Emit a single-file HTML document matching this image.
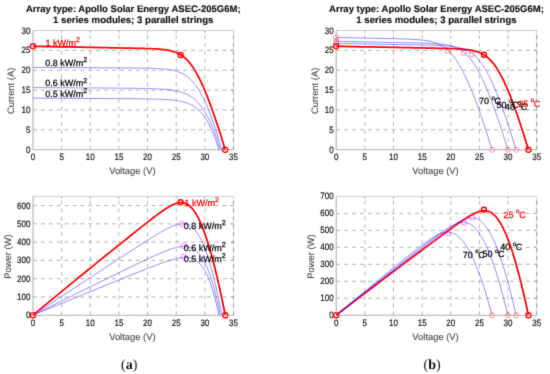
<!DOCTYPE html>
<html><head><meta charset="utf-8"><title>PV array characteristics</title>
<style>html,body{margin:0;padding:0;background:#fff;} svg{display:block;}</style>
</head><body>
<svg width="550" height="374" viewBox="0 0 550 374" text-rendering="geometricPrecision">
<defs><filter id="soft" x="0" y="0" width="550" height="374" filterUnits="userSpaceOnUse"><feConvolveMatrix order="3" kernelMatrix="0.018 0.135 0.018 0.135 1 0.135 0.018 0.135 0.018" divisor="1.614" edgeMode="duplicate" preserveAlpha="false"/></filter></defs>
<rect width="550" height="374" fill="#fff"/>
<g filter="url(#soft)">
<text transform="translate(133.25,12.0) scale(1.0,1)" text-anchor="middle" font-size="9.5" font-weight="bold" fill="#111" stroke="#111" stroke-width="0.15" font-family="'Liberation Sans',Arial,Helvetica,sans-serif">Array type: Apollo Solar Energy ASEC-205G6M;</text>
<text transform="translate(133.25,23.4) scale(1.012,1)" text-anchor="middle" font-size="9.5" font-weight="bold" fill="#111" stroke="#111" stroke-width="0.15" font-family="'Liberation Sans',Arial,Helvetica,sans-serif">1 series modules; 3 parallel strings</text>
<text transform="translate(436.45,12.0) scale(1.0,1)" text-anchor="middle" font-size="9.5" font-weight="bold" fill="#111" stroke="#111" stroke-width="0.15" font-family="'Liberation Sans',Arial,Helvetica,sans-serif">Array type: Apollo Solar Energy ASEC-205G6M;</text>
<text transform="translate(436.45,23.4) scale(1.012,1)" text-anchor="middle" font-size="9.5" font-weight="bold" fill="#111" stroke="#111" stroke-width="0.15" font-family="'Liberation Sans',Arial,Helvetica,sans-serif">1 series modules; 3 parallel strings</text>
<line x1="61.64" y1="149.7" x2="61.64" y2="30.5" stroke="#b6b6b6" stroke-width="1" stroke-dasharray="3.95 3.95"/>
<line x1="90.29" y1="149.7" x2="90.29" y2="30.5" stroke="#b6b6b6" stroke-width="1" stroke-dasharray="3.95 3.95"/>
<line x1="118.93" y1="149.7" x2="118.93" y2="30.5" stroke="#b6b6b6" stroke-width="1" stroke-dasharray="3.95 3.95"/>
<line x1="147.57" y1="149.7" x2="147.57" y2="30.5" stroke="#b6b6b6" stroke-width="1" stroke-dasharray="3.95 3.95"/>
<line x1="176.21" y1="149.7" x2="176.21" y2="30.5" stroke="#b6b6b6" stroke-width="1" stroke-dasharray="3.95 3.95"/>
<line x1="204.86" y1="149.7" x2="204.86" y2="30.5" stroke="#b6b6b6" stroke-width="1" stroke-dasharray="3.95 3.95"/>
<line x1="33.0" y1="129.83" x2="233.5" y2="129.83" stroke="#b1b1b1" stroke-width="1" stroke-dasharray="3.95 3.95"/>
<line x1="33.0" y1="109.97" x2="233.5" y2="109.97" stroke="#b1b1b1" stroke-width="1" stroke-dasharray="3.95 3.95"/>
<line x1="33.0" y1="90.10" x2="233.5" y2="90.10" stroke="#b1b1b1" stroke-width="1" stroke-dasharray="3.95 3.95"/>
<line x1="33.0" y1="70.23" x2="233.5" y2="70.23" stroke="#b1b1b1" stroke-width="1" stroke-dasharray="3.95 3.95"/>
<line x1="33.0" y1="50.37" x2="233.5" y2="50.37" stroke="#b1b1b1" stroke-width="1" stroke-dasharray="3.95 3.95"/>
<path d="M61.64,30.5 v2.2 M90.29,30.5 v2.2 M118.93,30.5 v2.2 M147.57,30.5 v2.2 M176.21,30.5 v2.2 M204.86,30.5 v2.2 M233.5,129.83 h-2.2 M233.5,109.97 h-2.2 M233.5,90.10 h-2.2 M233.5,70.23 h-2.2 M233.5,50.37 h-2.2" stroke="#a0a0a0" stroke-width="1" fill="none"/>
<line x1="233.5" y1="149.7" x2="233.5" y2="30.5" stroke="#d4d4d4" stroke-width="0.8"/>
<line x1="233.5" y1="149.7" x2="233.5" y2="30.5" stroke="#9a9a9a" stroke-width="1" stroke-dasharray="3.95 3.95"/>
<line x1="33.0" y1="30.5" x2="233.5" y2="30.5" stroke="#c6c6c6" stroke-width="0.9"/>
<path d="M33.0,30.5 V149.7 H233.5" fill="none" stroke="#b0b0b0" stroke-width="1.05"/>
<text transform="translate(33.00,160.30) scale(0.86,1)" text-anchor="middle" font-size="9.3" fill="#111" stroke="#111" stroke-width="0.18" font-family="'Liberation Sans',Arial,Helvetica,sans-serif">0</text>
<text transform="translate(61.64,160.30) scale(0.86,1)" text-anchor="middle" font-size="9.3" fill="#111" stroke="#111" stroke-width="0.18" font-family="'Liberation Sans',Arial,Helvetica,sans-serif">5</text>
<text transform="translate(90.29,160.30) scale(0.86,1)" text-anchor="middle" font-size="9.3" fill="#111" stroke="#111" stroke-width="0.18" font-family="'Liberation Sans',Arial,Helvetica,sans-serif">10</text>
<text transform="translate(118.93,160.30) scale(0.86,1)" text-anchor="middle" font-size="9.3" fill="#111" stroke="#111" stroke-width="0.18" font-family="'Liberation Sans',Arial,Helvetica,sans-serif">15</text>
<text transform="translate(147.57,160.30) scale(0.86,1)" text-anchor="middle" font-size="9.3" fill="#111" stroke="#111" stroke-width="0.18" font-family="'Liberation Sans',Arial,Helvetica,sans-serif">20</text>
<text transform="translate(176.21,160.30) scale(0.86,1)" text-anchor="middle" font-size="9.3" fill="#111" stroke="#111" stroke-width="0.18" font-family="'Liberation Sans',Arial,Helvetica,sans-serif">25</text>
<text transform="translate(204.86,160.30) scale(0.86,1)" text-anchor="middle" font-size="9.3" fill="#111" stroke="#111" stroke-width="0.18" font-family="'Liberation Sans',Arial,Helvetica,sans-serif">30</text>
<text transform="translate(233.50,160.30) scale(0.86,1)" text-anchor="middle" font-size="9.3" fill="#111" stroke="#111" stroke-width="0.18" font-family="'Liberation Sans',Arial,Helvetica,sans-serif">35</text>
<text transform="translate(30.40,152.70) scale(0.86,1)" text-anchor="end" font-size="9.3" fill="#111" stroke="#111" stroke-width="0.18" font-family="'Liberation Sans',Arial,Helvetica,sans-serif">0</text>
<text transform="translate(30.40,132.83) scale(0.86,1)" text-anchor="end" font-size="9.3" fill="#111" stroke="#111" stroke-width="0.18" font-family="'Liberation Sans',Arial,Helvetica,sans-serif">5</text>
<text transform="translate(30.40,112.97) scale(0.86,1)" text-anchor="end" font-size="9.3" fill="#111" stroke="#111" stroke-width="0.18" font-family="'Liberation Sans',Arial,Helvetica,sans-serif">10</text>
<text transform="translate(30.40,93.10) scale(0.86,1)" text-anchor="end" font-size="9.3" fill="#111" stroke="#111" stroke-width="0.18" font-family="'Liberation Sans',Arial,Helvetica,sans-serif">15</text>
<text transform="translate(30.40,73.23) scale(0.86,1)" text-anchor="end" font-size="9.3" fill="#111" stroke="#111" stroke-width="0.18" font-family="'Liberation Sans',Arial,Helvetica,sans-serif">20</text>
<text transform="translate(30.40,53.37) scale(0.86,1)" text-anchor="end" font-size="9.3" fill="#111" stroke="#111" stroke-width="0.18" font-family="'Liberation Sans',Arial,Helvetica,sans-serif">25</text>
<text transform="translate(30.40,33.50) scale(0.86,1)" text-anchor="end" font-size="9.3" fill="#111" stroke="#111" stroke-width="0.18" font-family="'Liberation Sans',Arial,Helvetica,sans-serif">30</text>
<text transform="translate(132.35,173.6) scale(1.0,1)" text-anchor="middle" font-size="9.4" fill="#474747" stroke="#474747" stroke-width="0.1" font-family="'Liberation Sans',Arial,Helvetica,sans-serif">Voltage (V)</text>
<line x1="364.84" y1="149.7" x2="364.84" y2="30.5" stroke="#b6b6b6" stroke-width="1" stroke-dasharray="3.95 3.95"/>
<line x1="393.49" y1="149.7" x2="393.49" y2="30.5" stroke="#b6b6b6" stroke-width="1" stroke-dasharray="3.95 3.95"/>
<line x1="422.13" y1="149.7" x2="422.13" y2="30.5" stroke="#b6b6b6" stroke-width="1" stroke-dasharray="3.95 3.95"/>
<line x1="450.77" y1="149.7" x2="450.77" y2="30.5" stroke="#b6b6b6" stroke-width="1" stroke-dasharray="3.95 3.95"/>
<line x1="479.41" y1="149.7" x2="479.41" y2="30.5" stroke="#b6b6b6" stroke-width="1" stroke-dasharray="3.95 3.95"/>
<line x1="508.06" y1="149.7" x2="508.06" y2="30.5" stroke="#b6b6b6" stroke-width="1" stroke-dasharray="3.95 3.95"/>
<line x1="336.2" y1="129.83" x2="536.7" y2="129.83" stroke="#b1b1b1" stroke-width="1" stroke-dasharray="3.95 3.95"/>
<line x1="336.2" y1="109.97" x2="536.7" y2="109.97" stroke="#b1b1b1" stroke-width="1" stroke-dasharray="3.95 3.95"/>
<line x1="336.2" y1="90.10" x2="536.7" y2="90.10" stroke="#b1b1b1" stroke-width="1" stroke-dasharray="3.95 3.95"/>
<line x1="336.2" y1="70.23" x2="536.7" y2="70.23" stroke="#b1b1b1" stroke-width="1" stroke-dasharray="3.95 3.95"/>
<line x1="336.2" y1="50.37" x2="536.7" y2="50.37" stroke="#b1b1b1" stroke-width="1" stroke-dasharray="3.95 3.95"/>
<path d="M364.84,30.5 v2.2 M393.49,30.5 v2.2 M422.13,30.5 v2.2 M450.77,30.5 v2.2 M479.41,30.5 v2.2 M508.06,30.5 v2.2 M536.7,129.83 h-2.2 M536.7,109.97 h-2.2 M536.7,90.10 h-2.2 M536.7,70.23 h-2.2 M536.7,50.37 h-2.2" stroke="#a0a0a0" stroke-width="1" fill="none"/>
<line x1="536.7" y1="149.7" x2="536.7" y2="30.5" stroke="#d4d4d4" stroke-width="0.8"/>
<line x1="536.7" y1="149.7" x2="536.7" y2="30.5" stroke="#9a9a9a" stroke-width="1" stroke-dasharray="3.95 3.95"/>
<line x1="336.2" y1="30.5" x2="536.7" y2="30.5" stroke="#c6c6c6" stroke-width="0.9"/>
<path d="M336.2,30.5 V149.7 H536.7" fill="none" stroke="#b0b0b0" stroke-width="1.05"/>
<text transform="translate(336.20,160.30) scale(0.86,1)" text-anchor="middle" font-size="9.3" fill="#111" stroke="#111" stroke-width="0.18" font-family="'Liberation Sans',Arial,Helvetica,sans-serif">0</text>
<text transform="translate(364.84,160.30) scale(0.86,1)" text-anchor="middle" font-size="9.3" fill="#111" stroke="#111" stroke-width="0.18" font-family="'Liberation Sans',Arial,Helvetica,sans-serif">5</text>
<text transform="translate(393.49,160.30) scale(0.86,1)" text-anchor="middle" font-size="9.3" fill="#111" stroke="#111" stroke-width="0.18" font-family="'Liberation Sans',Arial,Helvetica,sans-serif">10</text>
<text transform="translate(422.13,160.30) scale(0.86,1)" text-anchor="middle" font-size="9.3" fill="#111" stroke="#111" stroke-width="0.18" font-family="'Liberation Sans',Arial,Helvetica,sans-serif">15</text>
<text transform="translate(450.77,160.30) scale(0.86,1)" text-anchor="middle" font-size="9.3" fill="#111" stroke="#111" stroke-width="0.18" font-family="'Liberation Sans',Arial,Helvetica,sans-serif">20</text>
<text transform="translate(479.41,160.30) scale(0.86,1)" text-anchor="middle" font-size="9.3" fill="#111" stroke="#111" stroke-width="0.18" font-family="'Liberation Sans',Arial,Helvetica,sans-serif">25</text>
<text transform="translate(508.06,160.30) scale(0.86,1)" text-anchor="middle" font-size="9.3" fill="#111" stroke="#111" stroke-width="0.18" font-family="'Liberation Sans',Arial,Helvetica,sans-serif">30</text>
<text transform="translate(536.70,160.30) scale(0.86,1)" text-anchor="middle" font-size="9.3" fill="#111" stroke="#111" stroke-width="0.18" font-family="'Liberation Sans',Arial,Helvetica,sans-serif">35</text>
<text transform="translate(333.60,152.70) scale(0.86,1)" text-anchor="end" font-size="9.3" fill="#111" stroke="#111" stroke-width="0.18" font-family="'Liberation Sans',Arial,Helvetica,sans-serif">0</text>
<text transform="translate(333.60,132.83) scale(0.86,1)" text-anchor="end" font-size="9.3" fill="#111" stroke="#111" stroke-width="0.18" font-family="'Liberation Sans',Arial,Helvetica,sans-serif">5</text>
<text transform="translate(333.60,112.97) scale(0.86,1)" text-anchor="end" font-size="9.3" fill="#111" stroke="#111" stroke-width="0.18" font-family="'Liberation Sans',Arial,Helvetica,sans-serif">10</text>
<text transform="translate(333.60,93.10) scale(0.86,1)" text-anchor="end" font-size="9.3" fill="#111" stroke="#111" stroke-width="0.18" font-family="'Liberation Sans',Arial,Helvetica,sans-serif">15</text>
<text transform="translate(333.60,73.23) scale(0.86,1)" text-anchor="end" font-size="9.3" fill="#111" stroke="#111" stroke-width="0.18" font-family="'Liberation Sans',Arial,Helvetica,sans-serif">20</text>
<text transform="translate(333.60,53.37) scale(0.86,1)" text-anchor="end" font-size="9.3" fill="#111" stroke="#111" stroke-width="0.18" font-family="'Liberation Sans',Arial,Helvetica,sans-serif">25</text>
<text transform="translate(333.60,33.50) scale(0.86,1)" text-anchor="end" font-size="9.3" fill="#111" stroke="#111" stroke-width="0.18" font-family="'Liberation Sans',Arial,Helvetica,sans-serif">30</text>
<text transform="translate(435.55,173.6) scale(1.0,1)" text-anchor="middle" font-size="9.4" fill="#474747" stroke="#474747" stroke-width="0.1" font-family="'Liberation Sans',Arial,Helvetica,sans-serif">Voltage (V)</text>
<line x1="61.64" y1="315.2" x2="61.64" y2="196.4" stroke="#b6b6b6" stroke-width="1" stroke-dasharray="3.95 3.95"/>
<line x1="90.29" y1="315.2" x2="90.29" y2="196.4" stroke="#b6b6b6" stroke-width="1" stroke-dasharray="3.95 3.95"/>
<line x1="118.93" y1="315.2" x2="118.93" y2="196.4" stroke="#b6b6b6" stroke-width="1" stroke-dasharray="3.95 3.95"/>
<line x1="147.57" y1="315.2" x2="147.57" y2="196.4" stroke="#b6b6b6" stroke-width="1" stroke-dasharray="3.95 3.95"/>
<line x1="176.21" y1="315.2" x2="176.21" y2="196.4" stroke="#b6b6b6" stroke-width="1" stroke-dasharray="3.95 3.95"/>
<line x1="204.86" y1="315.2" x2="204.86" y2="196.4" stroke="#b6b6b6" stroke-width="1" stroke-dasharray="3.95 3.95"/>
<line x1="33.0" y1="296.92" x2="233.5" y2="296.92" stroke="#b1b1b1" stroke-width="1" stroke-dasharray="3.95 3.95"/>
<line x1="33.0" y1="278.65" x2="233.5" y2="278.65" stroke="#b1b1b1" stroke-width="1" stroke-dasharray="3.95 3.95"/>
<line x1="33.0" y1="260.37" x2="233.5" y2="260.37" stroke="#b1b1b1" stroke-width="1" stroke-dasharray="3.95 3.95"/>
<line x1="33.0" y1="242.09" x2="233.5" y2="242.09" stroke="#b1b1b1" stroke-width="1" stroke-dasharray="3.95 3.95"/>
<line x1="33.0" y1="223.82" x2="233.5" y2="223.82" stroke="#b1b1b1" stroke-width="1" stroke-dasharray="3.95 3.95"/>
<line x1="33.0" y1="205.54" x2="233.5" y2="205.54" stroke="#b1b1b1" stroke-width="1" stroke-dasharray="3.95 3.95"/>
<path d="M61.64,196.4 v2.2 M90.29,196.4 v2.2 M118.93,196.4 v2.2 M147.57,196.4 v2.2 M176.21,196.4 v2.2 M204.86,196.4 v2.2 M233.5,296.92 h-2.2 M233.5,278.65 h-2.2 M233.5,260.37 h-2.2 M233.5,242.09 h-2.2 M233.5,223.82 h-2.2 M233.5,205.54 h-2.2" stroke="#a0a0a0" stroke-width="1" fill="none"/>
<line x1="233.5" y1="315.2" x2="233.5" y2="196.4" stroke="#d4d4d4" stroke-width="0.8"/>
<line x1="233.5" y1="315.2" x2="233.5" y2="196.4" stroke="#9a9a9a" stroke-width="1" stroke-dasharray="3.95 3.95"/>
<line x1="33.0" y1="196.4" x2="233.5" y2="196.4" stroke="#c6c6c6" stroke-width="0.9"/>
<path d="M33.0,196.4 V315.2 H233.5" fill="none" stroke="#b0b0b0" stroke-width="1.05"/>
<text transform="translate(33.00,325.80) scale(0.86,1)" text-anchor="middle" font-size="9.3" fill="#111" stroke="#111" stroke-width="0.18" font-family="'Liberation Sans',Arial,Helvetica,sans-serif">0</text>
<text transform="translate(61.64,325.80) scale(0.86,1)" text-anchor="middle" font-size="9.3" fill="#111" stroke="#111" stroke-width="0.18" font-family="'Liberation Sans',Arial,Helvetica,sans-serif">5</text>
<text transform="translate(90.29,325.80) scale(0.86,1)" text-anchor="middle" font-size="9.3" fill="#111" stroke="#111" stroke-width="0.18" font-family="'Liberation Sans',Arial,Helvetica,sans-serif">10</text>
<text transform="translate(118.93,325.80) scale(0.86,1)" text-anchor="middle" font-size="9.3" fill="#111" stroke="#111" stroke-width="0.18" font-family="'Liberation Sans',Arial,Helvetica,sans-serif">15</text>
<text transform="translate(147.57,325.80) scale(0.86,1)" text-anchor="middle" font-size="9.3" fill="#111" stroke="#111" stroke-width="0.18" font-family="'Liberation Sans',Arial,Helvetica,sans-serif">20</text>
<text transform="translate(176.21,325.80) scale(0.86,1)" text-anchor="middle" font-size="9.3" fill="#111" stroke="#111" stroke-width="0.18" font-family="'Liberation Sans',Arial,Helvetica,sans-serif">25</text>
<text transform="translate(204.86,325.80) scale(0.86,1)" text-anchor="middle" font-size="9.3" fill="#111" stroke="#111" stroke-width="0.18" font-family="'Liberation Sans',Arial,Helvetica,sans-serif">30</text>
<text transform="translate(233.50,325.80) scale(0.86,1)" text-anchor="middle" font-size="9.3" fill="#111" stroke="#111" stroke-width="0.18" font-family="'Liberation Sans',Arial,Helvetica,sans-serif">35</text>
<text transform="translate(30.40,318.20) scale(0.86,1)" text-anchor="end" font-size="9.3" fill="#111" stroke="#111" stroke-width="0.18" font-family="'Liberation Sans',Arial,Helvetica,sans-serif">0</text>
<text transform="translate(30.40,299.92) scale(0.86,1)" text-anchor="end" font-size="9.3" fill="#111" stroke="#111" stroke-width="0.18" font-family="'Liberation Sans',Arial,Helvetica,sans-serif">100</text>
<text transform="translate(30.40,281.65) scale(0.86,1)" text-anchor="end" font-size="9.3" fill="#111" stroke="#111" stroke-width="0.18" font-family="'Liberation Sans',Arial,Helvetica,sans-serif">200</text>
<text transform="translate(30.40,263.37) scale(0.86,1)" text-anchor="end" font-size="9.3" fill="#111" stroke="#111" stroke-width="0.18" font-family="'Liberation Sans',Arial,Helvetica,sans-serif">300</text>
<text transform="translate(30.40,245.09) scale(0.86,1)" text-anchor="end" font-size="9.3" fill="#111" stroke="#111" stroke-width="0.18" font-family="'Liberation Sans',Arial,Helvetica,sans-serif">400</text>
<text transform="translate(30.40,226.82) scale(0.86,1)" text-anchor="end" font-size="9.3" fill="#111" stroke="#111" stroke-width="0.18" font-family="'Liberation Sans',Arial,Helvetica,sans-serif">500</text>
<text transform="translate(30.40,208.54) scale(0.86,1)" text-anchor="end" font-size="9.3" fill="#111" stroke="#111" stroke-width="0.18" font-family="'Liberation Sans',Arial,Helvetica,sans-serif">600</text>
<text transform="translate(132.35,339.8) scale(1.0,1)" text-anchor="middle" font-size="9.4" fill="#474747" stroke="#474747" stroke-width="0.1" font-family="'Liberation Sans',Arial,Helvetica,sans-serif">Voltage (V)</text>
<line x1="364.84" y1="315.2" x2="364.84" y2="196.4" stroke="#b6b6b6" stroke-width="1" stroke-dasharray="3.95 3.95"/>
<line x1="393.49" y1="315.2" x2="393.49" y2="196.4" stroke="#b6b6b6" stroke-width="1" stroke-dasharray="3.95 3.95"/>
<line x1="422.13" y1="315.2" x2="422.13" y2="196.4" stroke="#b6b6b6" stroke-width="1" stroke-dasharray="3.95 3.95"/>
<line x1="450.77" y1="315.2" x2="450.77" y2="196.4" stroke="#b6b6b6" stroke-width="1" stroke-dasharray="3.95 3.95"/>
<line x1="479.41" y1="315.2" x2="479.41" y2="196.4" stroke="#b6b6b6" stroke-width="1" stroke-dasharray="3.95 3.95"/>
<line x1="508.06" y1="315.2" x2="508.06" y2="196.4" stroke="#b6b6b6" stroke-width="1" stroke-dasharray="3.95 3.95"/>
<line x1="336.2" y1="298.23" x2="536.7" y2="298.23" stroke="#b1b1b1" stroke-width="1" stroke-dasharray="3.95 3.95"/>
<line x1="336.2" y1="281.26" x2="536.7" y2="281.26" stroke="#b1b1b1" stroke-width="1" stroke-dasharray="3.95 3.95"/>
<line x1="336.2" y1="264.29" x2="536.7" y2="264.29" stroke="#b1b1b1" stroke-width="1" stroke-dasharray="3.95 3.95"/>
<line x1="336.2" y1="247.31" x2="536.7" y2="247.31" stroke="#b1b1b1" stroke-width="1" stroke-dasharray="3.95 3.95"/>
<line x1="336.2" y1="230.34" x2="536.7" y2="230.34" stroke="#b1b1b1" stroke-width="1" stroke-dasharray="3.95 3.95"/>
<line x1="336.2" y1="213.37" x2="536.7" y2="213.37" stroke="#b1b1b1" stroke-width="1" stroke-dasharray="3.95 3.95"/>
<path d="M364.84,196.4 v2.2 M393.49,196.4 v2.2 M422.13,196.4 v2.2 M450.77,196.4 v2.2 M479.41,196.4 v2.2 M508.06,196.4 v2.2 M536.7,298.23 h-2.2 M536.7,281.26 h-2.2 M536.7,264.29 h-2.2 M536.7,247.31 h-2.2 M536.7,230.34 h-2.2 M536.7,213.37 h-2.2" stroke="#a0a0a0" stroke-width="1" fill="none"/>
<line x1="536.7" y1="315.2" x2="536.7" y2="196.4" stroke="#d4d4d4" stroke-width="0.8"/>
<line x1="536.7" y1="315.2" x2="536.7" y2="196.4" stroke="#9a9a9a" stroke-width="1" stroke-dasharray="3.95 3.95"/>
<line x1="336.2" y1="196.4" x2="536.7" y2="196.4" stroke="#c6c6c6" stroke-width="0.9"/>
<path d="M336.2,196.4 V315.2 H536.7" fill="none" stroke="#b0b0b0" stroke-width="1.05"/>
<text transform="translate(336.20,325.80) scale(0.86,1)" text-anchor="middle" font-size="9.3" fill="#111" stroke="#111" stroke-width="0.18" font-family="'Liberation Sans',Arial,Helvetica,sans-serif">0</text>
<text transform="translate(364.84,325.80) scale(0.86,1)" text-anchor="middle" font-size="9.3" fill="#111" stroke="#111" stroke-width="0.18" font-family="'Liberation Sans',Arial,Helvetica,sans-serif">5</text>
<text transform="translate(393.49,325.80) scale(0.86,1)" text-anchor="middle" font-size="9.3" fill="#111" stroke="#111" stroke-width="0.18" font-family="'Liberation Sans',Arial,Helvetica,sans-serif">10</text>
<text transform="translate(422.13,325.80) scale(0.86,1)" text-anchor="middle" font-size="9.3" fill="#111" stroke="#111" stroke-width="0.18" font-family="'Liberation Sans',Arial,Helvetica,sans-serif">15</text>
<text transform="translate(450.77,325.80) scale(0.86,1)" text-anchor="middle" font-size="9.3" fill="#111" stroke="#111" stroke-width="0.18" font-family="'Liberation Sans',Arial,Helvetica,sans-serif">20</text>
<text transform="translate(479.41,325.80) scale(0.86,1)" text-anchor="middle" font-size="9.3" fill="#111" stroke="#111" stroke-width="0.18" font-family="'Liberation Sans',Arial,Helvetica,sans-serif">25</text>
<text transform="translate(508.06,325.80) scale(0.86,1)" text-anchor="middle" font-size="9.3" fill="#111" stroke="#111" stroke-width="0.18" font-family="'Liberation Sans',Arial,Helvetica,sans-serif">30</text>
<text transform="translate(536.70,325.80) scale(0.86,1)" text-anchor="middle" font-size="9.3" fill="#111" stroke="#111" stroke-width="0.18" font-family="'Liberation Sans',Arial,Helvetica,sans-serif">35</text>
<text transform="translate(333.60,318.20) scale(0.86,1)" text-anchor="end" font-size="9.3" fill="#111" stroke="#111" stroke-width="0.18" font-family="'Liberation Sans',Arial,Helvetica,sans-serif">0</text>
<text transform="translate(333.60,301.23) scale(0.86,1)" text-anchor="end" font-size="9.3" fill="#111" stroke="#111" stroke-width="0.18" font-family="'Liberation Sans',Arial,Helvetica,sans-serif">100</text>
<text transform="translate(333.60,284.26) scale(0.86,1)" text-anchor="end" font-size="9.3" fill="#111" stroke="#111" stroke-width="0.18" font-family="'Liberation Sans',Arial,Helvetica,sans-serif">200</text>
<text transform="translate(333.60,267.29) scale(0.86,1)" text-anchor="end" font-size="9.3" fill="#111" stroke="#111" stroke-width="0.18" font-family="'Liberation Sans',Arial,Helvetica,sans-serif">300</text>
<text transform="translate(333.60,250.31) scale(0.86,1)" text-anchor="end" font-size="9.3" fill="#111" stroke="#111" stroke-width="0.18" font-family="'Liberation Sans',Arial,Helvetica,sans-serif">400</text>
<text transform="translate(333.60,233.34) scale(0.86,1)" text-anchor="end" font-size="9.3" fill="#111" stroke="#111" stroke-width="0.18" font-family="'Liberation Sans',Arial,Helvetica,sans-serif">500</text>
<text transform="translate(333.60,216.37) scale(0.86,1)" text-anchor="end" font-size="9.3" fill="#111" stroke="#111" stroke-width="0.18" font-family="'Liberation Sans',Arial,Helvetica,sans-serif">600</text>
<text transform="translate(333.60,199.40) scale(0.86,1)" text-anchor="end" font-size="9.3" fill="#111" stroke="#111" stroke-width="0.18" font-family="'Liberation Sans',Arial,Helvetica,sans-serif">700</text>
<text transform="translate(435.55,339.8) scale(1.0,1)" text-anchor="middle" font-size="9.4" fill="#474747" stroke="#474747" stroke-width="0.1" font-family="'Liberation Sans',Arial,Helvetica,sans-serif">Voltage (V)</text>
<text transform="translate(14.4,90.9) rotate(-90) scale(1.0,1)" text-anchor="middle" font-size="9.4" fill="#474747" stroke="#474747" stroke-width="0.1" font-family="'Liberation Sans',Arial,Helvetica,sans-serif">Current (A)</text>
<text transform="translate(318.1,90.9) rotate(-90) scale(1.0,1)" text-anchor="middle" font-size="9.4" fill="#474747" stroke="#474747" stroke-width="0.1" font-family="'Liberation Sans',Arial,Helvetica,sans-serif">Current (A)</text>
<text transform="translate(10.8,256.6) rotate(-90) scale(1.0,1)" text-anchor="middle" font-size="9.4" fill="#474747" stroke="#474747" stroke-width="0.1" font-family="'Liberation Sans',Arial,Helvetica,sans-serif">Power (W)</text>
<text transform="translate(313.7,256.6) rotate(-90) scale(1.0,1)" text-anchor="middle" font-size="9.4" fill="#474747" stroke="#474747" stroke-width="0.1" font-family="'Liberation Sans',Arial,Helvetica,sans-serif">Power (W)</text>
<polyline points="33.00,98.13 38.87,98.16 44.74,98.20 50.61,98.24 56.48,98.27 62.35,98.31 68.22,98.35 74.09,98.38 79.96,98.42 85.83,98.46 91.70,98.49 97.57,98.53 103.44,98.57 109.31,98.61 115.18,98.64 121.05,98.68 126.92,98.73 132.79,98.78 138.67,98.83 144.54,98.90 145.48,98.91 146.42,98.93 147.36,98.94 148.30,98.96 149.24,98.97 150.18,98.99 151.12,99.01 152.07,99.03 153.01,99.05 153.95,99.07 154.89,99.09 155.83,99.12 156.77,99.14 157.71,99.17 158.65,99.20 159.59,99.23 160.54,99.27 161.48,99.31 162.42,99.35 163.36,99.39 164.30,99.44 165.24,99.49 166.18,99.54 167.12,99.60 168.07,99.67 169.01,99.74 169.95,99.81 170.89,99.89 171.83,99.98 172.77,100.08 173.71,100.18 174.65,100.29 175.60,100.41 176.54,100.55 177.48,100.69 178.42,100.85 179.36,101.01 180.30,101.20 181.24,101.40 182.18,101.61 183.13,101.85 184.07,102.10 185.01,102.38 185.95,102.67 186.89,103.00 187.83,103.35 188.77,103.73 189.71,104.14 190.66,104.59 191.60,105.07 192.54,105.59 193.48,106.15 194.42,106.76 195.36,107.41 196.30,108.12 197.24,108.88 198.19,109.70 199.13,110.58 200.07,111.52 201.01,112.54 201.95,113.63 202.89,114.79 203.83,116.03 204.77,117.36 205.71,118.78 206.66,120.29 207.60,121.89 208.54,123.59 209.48,125.40 210.42,127.31 211.36,129.33 212.30,131.46 213.24,133.71 214.19,136.07 215.13,138.55 216.07,141.16 217.01,143.88 217.95,146.73 218.89,149.70" fill="none" stroke="#0000ff" stroke-width="0.45" stroke-linejoin="round"/>
<polyline points="33.00,87.64 38.91,87.67 44.82,87.71 50.74,87.75 56.65,87.78 62.56,87.82 68.47,87.86 74.38,87.90 80.30,87.93 86.21,87.97 92.12,88.01 98.03,88.04 103.94,88.08 109.85,88.12 115.77,88.17 121.68,88.21 127.59,88.26 133.50,88.32 139.41,88.40 145.33,88.50 146.27,88.52 147.22,88.54 148.17,88.57 149.12,88.59 150.07,88.62 151.01,88.64 151.96,88.67 152.91,88.70 153.86,88.74 154.80,88.77 155.75,88.81 156.70,88.85 157.65,88.89 158.60,88.94 159.54,88.99 160.49,89.04 161.44,89.10 162.39,89.16 163.34,89.23 164.28,89.30 165.23,89.38 166.18,89.46 167.13,89.55 168.08,89.65 169.02,89.76 169.97,89.87 170.92,89.99 171.87,90.12 172.81,90.26 173.76,90.42 174.71,90.58 175.66,90.76 176.61,90.95 177.55,91.16 178.50,91.39 179.45,91.63 180.40,91.89 181.35,92.17 182.29,92.47 183.24,92.80 184.19,93.15 185.14,93.53 186.09,93.94 187.03,94.38 187.98,94.85 188.93,95.36 189.88,95.91 190.82,96.49 191.77,97.12 192.72,97.79 193.67,98.52 194.62,99.29 195.56,100.12 196.51,101.00 197.46,101.94 198.41,102.95 199.36,104.02 200.30,105.17 201.25,106.38 202.20,107.67 203.15,109.03 204.10,110.48 205.04,112.01 205.99,113.63 206.94,115.34 207.89,117.14 208.83,119.04 209.78,121.03 210.73,123.11 211.68,125.30 212.63,127.59 213.57,129.99 214.52,132.49 215.47,135.09 216.42,137.80 217.37,140.61 218.31,143.54 219.26,146.57 220.21,149.70" fill="none" stroke="#0000ff" stroke-width="0.45" stroke-linejoin="round"/>
<polyline points="33.00,67.37 38.96,67.41 44.92,67.45 50.88,67.48 56.84,67.52 62.80,67.56 68.76,67.60 74.73,67.63 80.69,67.67 86.65,67.71 92.61,67.74 98.57,67.78 104.53,67.82 110.49,67.86 116.45,67.90 122.41,67.94 128.37,67.99 134.33,68.05 140.29,68.12 146.25,68.22 147.21,68.24 148.17,68.26 149.12,68.29 150.08,68.31 151.03,68.34 151.99,68.37 152.94,68.40 153.90,68.43 154.86,68.47 155.81,68.51 156.77,68.56 157.72,68.60 158.68,68.66 159.63,68.71 160.59,68.78 161.55,68.84 162.50,68.92 163.46,69.00 164.41,69.09 165.37,69.18 166.32,69.29 167.28,69.40 168.24,69.53 169.19,69.67 170.15,69.82 171.10,69.99 172.06,70.17 173.01,70.36 173.97,70.58 174.93,70.81 175.88,71.07 176.84,71.35 177.79,71.66 178.75,71.99 179.70,72.35 180.66,72.75 181.62,73.18 182.57,73.65 183.53,74.15 184.48,74.70 185.44,75.29 186.39,75.93 187.35,76.62 188.31,77.37 189.26,78.17 190.22,79.03 191.17,79.95 192.13,80.94 193.08,81.99 194.04,83.12 195.00,84.31 195.95,85.58 196.91,86.93 197.86,88.35 198.82,89.86 199.77,91.44 200.73,93.11 201.69,94.86 202.64,96.69 203.60,98.60 204.55,100.60 205.51,102.68 206.46,104.84 207.42,107.09 208.38,109.41 209.33,111.82 210.29,114.30 211.24,116.86 212.20,119.50 213.15,122.21 214.11,125.00 215.07,127.85 216.02,130.78 216.98,133.77 217.93,136.83 218.89,139.96 219.84,143.15 220.80,146.39 221.76,149.70" fill="none" stroke="#0000ff" stroke-width="0.45" stroke-linejoin="round"/>
<polyline points="33.00,46.30 39.07,46.42 45.14,46.53 51.21,46.65 57.28,46.76 63.35,46.87 69.42,46.99 75.49,47.10 81.56,47.21 87.63,47.33 93.70,47.44 99.77,47.56 105.84,47.67 111.91,47.79 117.98,47.90 124.05,48.02 130.12,48.14 136.19,48.27 142.26,48.42 148.33,48.60 149.31,48.64 150.28,48.67 151.25,48.71 152.23,48.75 153.20,48.80 154.17,48.85 155.14,48.90 156.12,48.95 157.09,49.01 158.06,49.08 159.04,49.15 160.01,49.23 160.98,49.31 161.96,49.41 162.93,49.51 163.90,49.62 164.88,49.74 165.85,49.88 166.82,50.02 167.80,50.19 168.77,50.37 169.74,50.57 170.72,50.79 171.69,51.03 172.66,51.30 173.64,51.59 174.61,51.92 175.58,52.28 176.56,52.67 177.53,53.10 178.50,53.57 179.48,54.09 180.45,54.65 181.42,55.27 182.40,55.94 183.37,56.66 184.34,57.45 185.32,58.30 186.29,59.21 187.26,60.19 188.24,61.25 189.21,62.37 190.18,63.57 191.16,64.84 192.13,66.19 193.10,67.61 194.08,69.11 195.05,70.69 196.02,72.34 197.00,74.07 197.97,75.87 198.94,77.74 199.92,79.69 200.89,81.71 201.86,83.80 202.83,85.95 203.81,88.17 204.78,90.45 205.75,92.79 206.73,95.20 207.70,97.66 208.67,100.17 209.65,102.74 210.62,105.36 211.59,108.03 212.57,110.75 213.54,113.51 214.51,116.32 215.49,119.17 216.46,122.07 217.43,125.00 218.41,127.97 219.38,130.97 220.35,134.01 221.33,137.09 222.30,140.20 223.27,143.33 224.25,146.50 225.22,149.70" fill="none" stroke="#ff0000" stroke-width="1.75" stroke-linejoin="round"/>
<circle cx="33.00" cy="46.30" r="2.55" fill="none" stroke="#ff0000" stroke-width="1.4"/>
<circle cx="180.60" cy="54.90" r="2.55" fill="none" stroke="#ff0000" stroke-width="1.4"/>
<circle cx="225.22" cy="149.70" r="2.55" fill="none" stroke="#ff0000" stroke-width="1.4"/>
<text x="45.60" y="45.50" font-size="9.0" fill="#ff0000" stroke="#ff0000" stroke-width="0.25" font-family="'Liberation Sans',Arial,Helvetica,sans-serif">1 kW/m<tspan font-size="7.0" dy="-3.9">2</tspan></text>
<text x="45.20" y="65.50" font-size="9.0" fill="#000000" stroke="#000000" stroke-width="0.25" font-family="'Liberation Sans',Arial,Helvetica,sans-serif">0.8 kW/m<tspan font-size="7.0" dy="-3.9">2</tspan></text>
<text x="45.20" y="86.40" font-size="9.0" fill="#000000" stroke="#000000" stroke-width="0.25" font-family="'Liberation Sans',Arial,Helvetica,sans-serif">0.6 kW/m<tspan font-size="7.0" dy="-3.9">2</tspan></text>
<text x="45.20" y="96.60" font-size="9.0" fill="#000000" stroke="#000000" stroke-width="0.25" font-family="'Liberation Sans',Arial,Helvetica,sans-serif">0.5 kW/m<tspan font-size="7.0" dy="-3.9">2</tspan></text>
<polyline points="33.00,315.20 38.87,312.77 44.74,310.34 50.61,307.92 56.48,305.50 62.35,303.09 68.22,300.68 74.09,298.27 79.96,295.86 85.83,293.46 91.70,291.06 97.57,288.67 103.44,286.28 109.31,283.89 115.18,281.51 121.05,279.13 126.92,276.76 132.79,274.39 138.67,272.04 144.54,269.70 145.48,269.33 146.42,268.96 147.36,268.59 148.30,268.22 149.24,267.85 150.18,267.48 151.12,267.12 152.07,266.75 153.01,266.39 153.95,266.03 154.89,265.67 155.83,265.31 156.77,264.95 157.71,264.60 158.65,264.25 159.59,263.90 160.54,263.55 161.48,263.21 162.42,262.87 163.36,262.54 164.30,262.21 165.24,261.88 166.18,261.56 167.12,261.25 168.07,260.94 169.01,260.63 169.95,260.34 170.89,260.05 171.83,259.77 172.77,259.51 173.71,259.25 174.65,259.00 175.60,258.77 176.54,258.55 177.48,258.34 178.42,258.15 179.36,257.98 180.30,257.83 181.24,257.70 182.18,257.59 183.13,257.51 184.07,257.46 185.01,257.44 185.95,257.45 186.89,257.49 187.83,257.57 188.77,257.70 189.71,257.87 190.66,258.09 191.60,258.36 192.54,258.69 193.48,259.08 194.42,259.54 195.36,260.07 196.30,260.68 197.24,261.36 198.19,262.14 199.13,263.01 200.07,263.99 201.01,265.07 201.95,266.26 202.89,267.58 203.83,269.02 204.77,270.60 205.71,272.32 206.66,274.19 207.60,276.21 208.54,278.40 209.48,280.76 210.42,283.30 211.36,286.03 212.30,288.94 213.24,292.06 214.19,295.37 215.13,298.90 216.07,302.64 217.01,306.60 217.95,310.79 218.89,315.20" fill="none" stroke="#0000ff" stroke-width="0.45" stroke-linejoin="round"/>
<polyline points="33.00,315.20 38.91,312.26 44.82,309.31 50.74,306.38 56.65,303.44 62.56,300.51 68.47,297.59 74.38,294.66 80.30,291.74 86.21,288.83 92.12,285.91 98.03,283.00 103.94,280.10 109.85,277.20 115.77,274.30 121.68,271.42 127.59,268.54 133.50,265.67 139.41,262.82 145.33,260.00 146.27,259.56 147.22,259.11 148.17,258.66 149.12,258.22 150.07,257.78 151.01,257.34 151.96,256.90 152.91,256.47 153.86,256.04 154.80,255.61 155.75,255.18 156.70,254.76 157.65,254.34 158.60,253.92 159.54,253.51 160.49,253.10 161.44,252.70 162.39,252.30 163.34,251.91 164.28,251.53 165.23,251.15 166.18,250.78 167.13,250.42 168.08,250.07 169.02,249.73 169.97,249.39 170.92,249.07 171.87,248.77 172.81,248.47 173.76,248.19 174.71,247.93 175.66,247.68 176.61,247.46 177.55,247.25 178.50,247.07 179.45,246.91 180.40,246.78 181.35,246.67 182.29,246.60 183.24,246.56 184.19,246.55 185.14,246.58 186.09,246.66 187.03,246.78 187.98,246.94 188.93,247.16 189.88,247.44 190.82,247.77 191.77,248.17 192.72,248.63 193.67,249.17 194.62,249.78 195.56,250.48 196.51,251.26 197.46,252.14 198.41,253.11 199.36,254.19 200.30,255.37 201.25,256.67 202.20,258.09 203.15,259.64 204.10,261.32 205.04,263.14 205.99,265.10 206.94,267.21 207.89,269.48 208.83,271.90 209.78,274.50 210.73,277.26 211.68,280.20 212.63,283.32 213.57,286.62 214.52,290.11 215.47,293.79 216.42,297.67 217.37,301.75 218.31,306.03 219.26,310.51 220.21,315.20" fill="none" stroke="#0000ff" stroke-width="0.45" stroke-linejoin="round"/>
<polyline points="33.00,315.20 38.96,311.26 44.92,307.33 50.88,303.39 56.84,299.47 62.80,295.54 68.76,291.62 74.73,287.70 80.69,283.79 86.65,279.88 92.61,275.97 98.57,272.07 104.53,268.17 110.49,264.28 116.45,260.39 122.41,256.50 128.37,252.63 134.33,248.76 140.29,244.91 146.25,241.10 147.21,240.50 148.17,239.89 149.12,239.29 150.08,238.69 151.03,238.09 151.99,237.49 152.94,236.90 153.90,236.31 154.86,235.72 155.81,235.14 156.77,234.56 157.72,233.98 158.68,233.41 159.63,232.85 160.59,232.29 161.55,231.74 162.50,231.20 163.46,230.66 164.41,230.14 165.37,229.62 166.32,229.12 167.28,228.62 168.24,228.14 169.19,227.68 170.15,227.23 171.10,226.80 172.06,226.39 173.01,226.00 173.97,225.64 174.93,225.30 175.88,224.99 176.84,224.71 177.79,224.46 178.75,224.26 179.70,224.09 180.66,223.96 181.62,223.88 182.57,223.86 183.53,223.88 184.48,223.97 185.44,224.12 186.39,224.34 187.35,224.63 188.31,225.00 189.26,225.45 190.22,225.98 191.17,226.61 192.13,227.34 193.08,228.17 194.04,229.10 195.00,230.14 195.95,231.30 196.91,232.58 197.86,233.99 198.82,235.52 199.77,237.18 200.73,238.98 201.69,240.91 202.64,242.99 203.60,245.20 204.55,247.56 205.51,250.07 206.46,252.72 207.42,255.52 208.38,258.46 209.33,261.56 210.29,264.81 211.24,268.20 212.20,271.74 213.15,275.44 214.11,279.28 215.07,283.26 216.02,287.39 216.98,291.67 217.93,296.09 218.89,300.66 219.84,305.37 220.80,310.21 221.76,315.20" fill="none" stroke="#0000ff" stroke-width="0.45" stroke-linejoin="round"/>
<polyline points="33.00,315.20 39.07,310.17 45.14,305.14 51.21,300.13 57.28,295.13 63.35,290.14 69.42,285.16 75.49,280.19 81.56,275.24 87.63,270.29 93.70,265.36 99.77,260.44 105.84,255.52 111.91,250.62 117.98,245.73 124.05,240.86 130.12,236.00 136.19,231.16 142.26,226.34 148.33,221.57 149.31,220.82 150.28,220.06 151.25,219.31 152.23,218.56 153.20,217.81 154.17,217.07 155.14,216.33 156.12,215.60 157.09,214.87 158.06,214.15 159.04,213.44 160.01,212.73 160.98,212.03 161.96,211.34 162.93,210.67 163.90,210.00 164.88,209.35 165.85,208.71 166.82,208.09 167.80,207.49 168.77,206.91 169.74,206.35 170.72,205.82 171.69,205.32 172.66,204.85 173.64,204.41 174.61,204.01 175.58,203.66 176.56,203.35 177.53,203.09 178.50,202.89 179.48,202.74 180.45,202.66 181.42,202.65 182.40,202.72 183.37,202.86 184.34,203.09 185.32,203.41 186.29,203.82 187.26,204.33 188.24,204.94 189.21,205.66 190.18,206.49 191.16,207.43 192.13,208.49 193.10,209.67 194.08,210.97 195.05,212.39 196.02,213.93 197.00,215.60 197.97,217.40 198.94,219.32 199.92,221.37 200.89,223.54 201.86,225.84 202.83,228.26 203.81,230.81 204.78,233.47 205.75,236.26 206.73,239.17 207.70,242.19 208.67,245.33 209.65,248.59 210.62,251.96 211.59,255.44 212.57,259.04 213.54,262.74 214.51,266.55 215.49,270.47 216.46,274.49 217.43,278.62 218.41,282.85 219.38,287.17 220.35,291.60 221.33,296.13 222.30,300.75 223.27,305.47 224.25,310.29 225.22,315.20" fill="none" stroke="#ff0000" stroke-width="1.75" stroke-linejoin="round"/>
<circle cx="33.00" cy="315.20" r="2.55" fill="none" stroke="#ff0000" stroke-width="1.4"/>
<circle cx="180.50" cy="202.30" r="2.55" fill="none" stroke="#ff0000" stroke-width="1.4"/>
<circle cx="225.22" cy="315.20" r="2.55" fill="none" stroke="#ff0000" stroke-width="1.4"/>
<circle cx="181.90" cy="224.00" r="2.55" fill="none" stroke="#ff00ff" stroke-width="0.5"/>
<circle cx="183.30" cy="246.10" r="2.55" fill="none" stroke="#ff00ff" stroke-width="0.5"/>
<circle cx="183.40" cy="256.80" r="2.55" fill="none" stroke="#ff00ff" stroke-width="0.5"/>
<text x="184.60" y="205.70" font-size="9.0" fill="#ff0000" stroke="#ff0000" stroke-width="0.25" font-family="'Liberation Sans',Arial,Helvetica,sans-serif">1 kW/m<tspan font-size="7.0" dy="-3.9">2</tspan></text>
<text x="183.80" y="229.20" font-size="9.0" fill="#000000" stroke="#000000" stroke-width="0.25" font-family="'Liberation Sans',Arial,Helvetica,sans-serif">0.8 kW/m<tspan font-size="7.0" dy="-3.9">2</tspan></text>
<text x="183.80" y="251.20" font-size="9.0" fill="#000000" stroke="#000000" stroke-width="0.25" font-family="'Liberation Sans',Arial,Helvetica,sans-serif">0.6 kW/m<tspan font-size="7.0" dy="-3.9">2</tspan></text>
<text x="183.80" y="262.20" font-size="9.0" fill="#000000" stroke="#000000" stroke-width="0.25" font-family="'Liberation Sans',Arial,Helvetica,sans-serif">0.5 kW/m<tspan font-size="7.0" dy="-3.9">2</tspan></text>
<polyline points="336.20,46.30 342.27,46.42 348.34,46.53 354.41,46.65 360.48,46.76 366.55,46.87 372.62,46.99 378.69,47.10 384.76,47.21 390.83,47.33 396.90,47.44 402.97,47.56 409.04,47.67 415.11,47.79 421.18,47.90 427.25,48.02 433.32,48.14 439.39,48.27 445.46,48.42 451.53,48.60 452.51,48.64 453.48,48.67 454.45,48.71 455.43,48.75 456.40,48.80 457.37,48.85 458.34,48.90 459.32,48.95 460.29,49.01 461.26,49.08 462.24,49.15 463.21,49.23 464.18,49.31 465.16,49.41 466.13,49.51 467.10,49.62 468.08,49.74 469.05,49.88 470.02,50.02 471.00,50.19 471.97,50.37 472.94,50.57 473.92,50.79 474.89,51.03 475.86,51.30 476.84,51.59 477.81,51.92 478.78,52.28 479.76,52.67 480.73,53.10 481.70,53.57 482.68,54.09 483.65,54.65 484.62,55.27 485.60,55.94 486.57,56.66 487.54,57.45 488.52,58.30 489.49,59.21 490.46,60.19 491.44,61.25 492.41,62.37 493.38,63.57 494.36,64.84 495.33,66.19 496.30,67.61 497.28,69.11 498.25,70.69 499.22,72.34 500.20,74.07 501.17,75.87 502.14,77.74 503.12,79.69 504.09,81.71 505.06,83.80 506.03,85.95 507.01,88.17 507.98,90.45 508.95,92.79 509.93,95.20 510.90,97.66 511.87,100.17 512.85,102.74 513.82,105.36 514.79,108.03 515.77,110.75 516.74,113.51 517.71,116.32 518.69,119.17 519.66,122.07 520.63,125.00 521.61,127.97 522.58,130.97 523.55,134.01 524.53,137.09 525.50,140.20 526.47,143.33 527.45,146.50 528.42,149.70" fill="none" stroke="#ff0000" stroke-width="1.75" stroke-linejoin="round"/>
<polyline points="336.20,37.53 341.12,37.63 346.04,37.72 350.96,37.81 355.88,37.90 360.80,38.00 365.72,38.09 370.64,38.18 375.56,38.28 380.48,38.38 385.41,38.48 390.33,38.58 395.25,38.69 400.17,38.82 405.09,38.98 410.01,39.17 414.93,39.43 419.85,39.80 424.77,40.36 429.69,41.20 430.48,41.38 431.27,41.56 432.06,41.76 432.85,41.97 433.64,42.20 434.42,42.44 435.21,42.70 436.00,42.98 436.79,43.28 437.58,43.60 438.37,43.94 439.16,44.30 439.95,44.69 440.74,45.10 441.52,45.54 442.31,46.01 443.10,46.50 443.89,47.03 444.68,47.59 445.47,48.18 446.26,48.81 447.05,49.47 447.84,50.16 448.63,50.90 449.41,51.67 450.20,52.48 450.99,53.33 451.78,54.23 452.57,55.16 453.36,56.14 454.15,57.16 454.94,58.22 455.73,59.33 456.51,60.47 457.30,61.67 458.09,62.90 458.88,64.18 459.67,65.51 460.46,66.87 461.25,68.28 462.04,69.73 462.83,71.23 463.62,72.76 464.40,74.34 465.19,75.96 465.98,77.61 466.77,79.31 467.56,81.04 468.35,82.81 469.14,84.62 469.93,86.46 470.72,88.34 471.50,90.26 472.29,92.21 473.08,94.19 473.87,96.20 474.66,98.24 475.45,100.32 476.24,102.42 477.03,104.56 477.82,106.72 478.61,108.91 479.39,111.13 480.18,113.37 480.97,115.64 481.76,117.93 482.55,120.25 483.34,122.59 484.13,124.95 484.92,127.33 485.71,129.74 486.49,132.17 487.28,134.62 488.07,137.08 488.86,139.57 489.65,142.08 490.44,144.60 491.23,147.14 492.02,149.70" fill="none" stroke="#0000ff" stroke-width="0.45" stroke-linejoin="round"/>
<circle cx="336.20" cy="37.53" r="2.55" fill="none" stroke="#ff0000" stroke-width="0.45"/>
<circle cx="492.02" cy="149.70" r="2.55" fill="none" stroke="#ff0000" stroke-width="0.45"/>
<polyline points="336.20,41.35 341.62,41.45 347.04,41.55 352.46,41.65 357.88,41.75 363.30,41.86 368.72,41.96 374.14,42.06 379.56,42.16 384.98,42.26 390.40,42.37 395.82,42.47 401.24,42.58 406.66,42.69 412.08,42.80 417.50,42.93 422.92,43.08 428.34,43.28 433.76,43.54 439.18,43.94 440.05,44.02 440.91,44.11 441.78,44.21 442.65,44.31 443.52,44.42 444.39,44.55 445.26,44.68 446.13,44.82 447.00,44.97 447.87,45.14 448.74,45.32 449.60,45.52 450.47,45.73 451.34,45.96 452.21,46.21 453.08,46.48 453.95,46.78 454.82,47.10 455.69,47.44 456.56,47.81 457.43,48.21 458.29,48.64 459.16,49.11 460.03,49.61 460.90,50.14 461.77,50.72 462.64,51.33 463.51,51.99 464.38,52.69 465.25,53.44 466.12,54.24 466.98,55.09 467.85,55.98 468.72,56.93 469.59,57.93 470.46,58.99 471.33,60.10 472.20,61.26 473.07,62.48 473.94,63.76 474.81,65.09 475.67,66.48 476.54,67.93 477.41,69.43 478.28,70.98 479.15,72.60 480.02,74.26 480.89,75.98 481.76,77.75 482.63,79.57 483.50,81.44 484.36,83.36 485.23,85.33 486.10,87.35 486.97,89.41 487.84,91.52 488.71,93.67 489.58,95.86 490.45,98.09 491.32,100.36 492.19,102.68 493.05,105.02 493.92,107.41 494.79,109.83 495.66,112.29 496.53,114.77 497.40,117.29 498.27,119.85 499.14,122.43 500.01,125.04 500.88,127.68 501.74,130.34 502.61,133.04 503.48,135.75 504.35,138.50 505.22,141.26 506.09,144.05 506.96,146.87 507.83,149.70" fill="none" stroke="#0000ff" stroke-width="0.45" stroke-linejoin="round"/>
<circle cx="336.20" cy="41.35" r="2.55" fill="none" stroke="#ff0000" stroke-width="0.45"/>
<circle cx="507.83" cy="149.70" r="2.55" fill="none" stroke="#ff0000" stroke-width="0.45"/>
<polyline points="336.20,43.41 341.88,43.52 347.56,43.63 353.24,43.73 358.92,43.84 364.60,43.95 370.28,44.05 375.96,44.16 381.64,44.27 387.32,44.37 393.00,44.48 398.68,44.59 404.36,44.70 410.04,44.81 415.72,44.92 421.40,45.04 427.09,45.17 432.77,45.32 438.45,45.52 444.13,45.80 445.04,45.85 445.95,45.91 446.86,45.98 447.77,46.05 448.68,46.13 449.59,46.21 450.50,46.30 451.41,46.39 452.32,46.50 453.23,46.62 454.14,46.74 455.06,46.88 455.97,47.03 456.88,47.19 457.79,47.36 458.70,47.56 459.61,47.77 460.52,48.00 461.43,48.25 462.34,48.52 463.25,48.82 464.16,49.15 465.07,49.50 465.98,49.88 466.90,50.30 467.81,50.75 468.72,51.24 469.63,51.78 470.54,52.35 471.45,52.96 472.36,53.63 473.27,54.34 474.18,55.11 475.09,55.93 476.00,56.80 476.91,57.73 477.82,58.72 478.74,59.77 479.65,60.88 480.56,62.05 481.47,63.28 482.38,64.58 483.29,65.94 484.20,67.37 485.11,68.86 486.02,70.41 486.93,72.03 487.84,73.70 488.75,75.44 489.66,77.24 490.58,79.10 491.49,81.01 492.40,82.99 493.31,85.02 494.22,87.10 495.13,89.23 496.04,91.42 496.95,93.66 497.86,95.94 498.77,98.27 499.68,100.65 500.59,103.07 501.50,105.53 502.42,108.04 503.33,110.58 504.24,113.16 505.15,115.78 506.06,118.44 506.97,121.13 507.88,123.85 508.79,126.61 509.70,129.40 510.61,132.22 511.52,135.06 512.43,137.94 513.34,140.84 514.26,143.77 515.17,146.72 516.08,149.70" fill="none" stroke="#0000ff" stroke-width="0.45" stroke-linejoin="round"/>
<circle cx="336.20" cy="43.41" r="2.55" fill="none" stroke="#ff0000" stroke-width="0.45"/>
<circle cx="516.08" cy="149.70" r="2.55" fill="none" stroke="#ff0000" stroke-width="0.45"/>
<circle cx="447.70" cy="50.90" r="2.55" fill="none" stroke="#ff0000" stroke-width="0.45"/>
<circle cx="463.70" cy="52.70" r="2.55" fill="none" stroke="#ff0000" stroke-width="0.45"/>
<circle cx="471.80" cy="54.20" r="2.55" fill="none" stroke="#ff0000" stroke-width="0.45"/>
<circle cx="336.20" cy="46.30" r="2.55" fill="none" stroke="#ff0000" stroke-width="1.4"/>
<circle cx="484.00" cy="54.70" r="2.55" fill="none" stroke="#ff0000" stroke-width="1.4"/>
<circle cx="528.42" cy="149.70" r="2.55" fill="none" stroke="#ff0000" stroke-width="1.4"/>
<polyline points="336.20,315.20 342.27,310.53 348.34,305.86 354.41,301.21 360.48,296.56 366.55,291.93 372.62,287.31 378.69,282.69 384.76,278.09 390.83,273.50 396.90,268.92 402.97,264.35 409.04,259.79 415.11,255.24 421.18,250.70 427.25,246.17 433.32,241.66 439.39,237.16 445.46,232.69 451.53,228.26 452.51,227.56 453.48,226.86 454.45,226.16 455.43,225.46 456.40,224.77 457.37,224.08 458.34,223.40 459.32,222.72 460.29,222.04 461.26,221.37 462.24,220.71 463.21,220.05 464.18,219.40 465.16,218.76 466.13,218.13 467.10,217.52 468.08,216.91 469.05,216.32 470.02,215.74 471.00,215.18 471.97,214.64 472.94,214.13 473.92,213.63 474.89,213.17 475.86,212.73 476.84,212.32 477.81,211.95 478.78,211.62 479.76,211.34 480.73,211.10 481.70,210.91 482.68,210.78 483.65,210.70 484.62,210.69 485.60,210.75 486.57,210.89 487.54,211.10 488.52,211.39 489.49,211.77 490.46,212.25 491.44,212.82 492.41,213.48 493.38,214.25 494.36,215.13 495.33,216.11 496.30,217.20 497.28,218.41 498.25,219.73 499.22,221.17 500.20,222.72 501.17,224.39 502.14,226.17 503.12,228.07 504.09,230.09 505.06,232.22 506.03,234.47 507.01,236.83 507.98,239.31 508.95,241.90 509.93,244.60 510.90,247.41 511.87,250.32 512.85,253.35 513.82,256.48 514.79,259.71 515.77,263.05 516.74,266.49 517.71,270.03 518.69,273.66 519.66,277.40 520.63,281.23 521.61,285.16 522.58,289.18 523.55,293.29 524.53,297.49 525.50,301.79 526.47,306.17 527.45,310.64 528.42,315.20" fill="none" stroke="#ff0000" stroke-width="1.75" stroke-linejoin="round"/>
<polyline points="336.20,315.20 341.12,311.09 346.04,306.98 350.96,302.88 355.88,298.79 360.80,294.71 365.72,290.63 370.64,286.56 375.56,282.50 380.48,278.44 385.41,274.39 390.33,270.36 395.25,266.33 400.17,262.32 405.09,258.33 410.01,254.37 414.93,250.47 419.85,246.66 424.77,242.99 429.69,239.57 430.48,239.05 431.27,238.55 432.06,238.05 432.85,237.57 433.64,237.10 434.42,236.65 435.21,236.21 436.00,235.79 436.79,235.38 437.58,235.00 438.37,234.63 439.16,234.29 439.95,233.97 440.74,233.67 441.52,233.40 442.31,233.16 443.10,232.94 443.89,232.76 444.68,232.61 445.47,232.49 446.26,232.40 447.05,232.36 447.84,232.35 448.63,232.38 449.41,232.45 450.20,232.56 450.99,232.72 451.78,232.92 452.57,233.17 453.36,233.47 454.15,233.81 454.94,234.21 455.73,234.66 456.51,235.16 457.30,235.71 458.09,236.31 458.88,236.97 459.67,237.69 460.46,238.46 461.25,239.29 462.04,240.17 462.83,241.11 463.62,242.11 464.40,243.16 465.19,244.27 465.98,245.44 466.77,246.67 467.56,247.95 468.35,249.29 469.14,250.69 469.93,252.15 470.72,253.66 471.50,255.23 472.29,256.86 473.08,258.54 473.87,260.28 474.66,262.08 475.45,263.93 476.24,265.84 477.03,267.80 477.82,269.82 478.61,271.89 479.39,274.02 480.18,276.20 480.97,278.43 481.76,280.72 482.55,283.06 483.34,285.45 484.13,287.90 484.92,290.40 485.71,292.95 486.49,295.55 487.28,298.21 488.07,300.91 488.86,303.67 489.65,306.48 490.44,309.33 491.23,312.24 492.02,315.20" fill="none" stroke="#0000ff" stroke-width="0.45" stroke-linejoin="round"/>
<circle cx="492.02" cy="315.20" r="2.55" fill="none" stroke="#ff0000" stroke-width="0.45"/>
<polyline points="336.20,315.20 341.62,310.83 347.04,306.46 352.46,302.10 357.88,297.75 363.30,293.41 368.72,289.08 374.14,284.75 379.56,280.43 384.98,276.13 390.40,271.83 395.82,267.53 401.24,263.25 406.66,258.98 412.08,254.72 417.50,250.48 422.92,246.26 428.34,242.09 433.76,237.98 439.18,234.00 440.05,233.38 440.91,232.76 441.78,232.15 442.65,231.55 443.52,230.96 444.39,230.37 445.26,229.80 446.13,229.23 447.00,228.68 447.87,228.14 448.74,227.62 449.60,227.11 450.47,226.61 451.34,226.14 452.21,225.68 453.08,225.25 453.95,224.84 454.82,224.45 455.69,224.09 456.56,223.76 457.43,223.47 458.29,223.20 459.16,222.97 460.03,222.78 460.90,222.63 461.77,222.52 462.64,222.46 463.51,222.45 464.38,222.49 465.25,222.58 466.12,222.73 466.98,222.94 467.85,223.20 468.72,223.53 469.59,223.93 470.46,224.39 471.33,224.92 472.20,225.52 473.07,226.19 473.94,226.94 474.81,227.76 475.67,228.66 476.54,229.63 477.41,230.68 478.28,231.81 479.15,233.02 480.02,234.30 480.89,235.67 481.76,237.11 482.63,238.63 483.50,240.23 484.36,241.91 485.23,243.67 486.10,245.51 486.97,247.42 487.84,249.41 488.71,251.48 489.58,253.62 490.45,255.84 491.32,258.14 492.19,260.51 493.05,262.95 493.92,265.47 494.79,268.06 495.66,270.72 496.53,273.45 497.40,276.25 498.27,279.12 499.14,282.07 500.01,285.08 500.88,288.16 501.74,291.31 502.61,294.52 503.48,297.80 504.35,301.15 505.22,304.57 506.09,308.05 506.96,311.59 507.83,315.20" fill="none" stroke="#0000ff" stroke-width="0.45" stroke-linejoin="round"/>
<circle cx="507.83" cy="315.20" r="2.55" fill="none" stroke="#ff0000" stroke-width="0.45"/>
<polyline points="336.20,315.20 341.88,310.70 347.56,306.21 353.24,301.74 358.92,297.27 364.60,292.80 370.28,288.35 375.96,283.91 381.64,279.48 387.32,275.05 393.00,270.64 398.68,266.23 404.36,261.83 410.04,257.45 415.72,253.07 421.40,248.71 427.09,244.36 432.77,240.05 438.45,235.78 444.13,231.59 445.04,230.93 445.95,230.27 446.86,229.62 447.77,228.98 448.68,228.34 449.59,227.70 450.50,227.07 451.41,226.46 452.32,225.85 453.23,225.25 454.14,224.66 455.06,224.08 455.97,223.51 456.88,222.96 457.79,222.42 458.70,221.91 459.61,221.41 460.52,220.93 461.43,220.47 462.34,220.04 463.25,219.64 464.16,219.26 465.07,218.92 465.98,218.61 466.90,218.34 467.81,218.11 468.72,217.92 469.63,217.78 470.54,217.69 471.45,217.65 472.36,217.67 473.27,217.74 474.18,217.88 475.09,218.09 476.00,218.36 476.91,218.70 477.82,219.12 478.74,219.62 479.65,220.20 480.56,220.86 481.47,221.60 482.38,222.43 483.29,223.34 484.20,224.35 485.11,225.44 486.02,226.63 486.93,227.90 487.84,229.27 488.75,230.73 489.66,232.29 490.58,233.93 491.49,235.67 492.40,237.50 493.31,239.43 494.22,241.44 495.13,243.55 496.04,245.74 496.95,248.03 497.86,250.40 498.77,252.86 499.68,255.41 500.59,258.04 501.50,260.76 502.42,263.57 503.33,266.45 504.24,269.42 505.15,272.48 506.06,275.61 506.97,278.82 507.88,282.12 508.79,285.49 509.70,288.94 510.61,292.46 511.52,296.07 512.43,299.74 513.34,303.50 514.26,307.32 515.17,311.23 516.08,315.20" fill="none" stroke="#0000ff" stroke-width="0.45" stroke-linejoin="round"/>
<circle cx="516.08" cy="315.20" r="2.55" fill="none" stroke="#ff0000" stroke-width="0.45"/>
<circle cx="448.00" cy="233.10" r="2.55" fill="none" stroke="#ff00ff" stroke-width="0.5"/>
<circle cx="464.20" cy="222.80" r="2.55" fill="none" stroke="#ff00ff" stroke-width="0.5"/>
<circle cx="472.30" cy="217.40" r="2.55" fill="none" stroke="#ff00ff" stroke-width="0.5"/>
<circle cx="336.20" cy="315.20" r="2.55" fill="none" stroke="#ff0000" stroke-width="1.4"/>
<circle cx="483.90" cy="209.80" r="2.55" fill="none" stroke="#ff0000" stroke-width="1.4"/>
<circle cx="528.42" cy="315.20" r="2.55" fill="none" stroke="#ff0000" stroke-width="1.4"/>
<text x="518.20" y="106.60" font-size="9" fill="#ff0000" stroke="#ff0000" stroke-width="0.25" font-family="'Liberation Sans',Arial,Helvetica,sans-serif">25 <tspan font-size="6.3" dy="-4.3">o</tspan><tspan dy="4.3" dx="-0.5">C</tspan></text>
<text x="479.00" y="104.10" font-size="9" fill="#000000" stroke="#000000" stroke-width="0.25" font-family="'Liberation Sans',Arial,Helvetica,sans-serif">70 <tspan font-size="6.3" dy="-4.3">o</tspan><tspan dy="4.3" dx="-0.5">C</tspan></text>
<text x="496.40" y="107.50" font-size="9" fill="#000000" stroke="#000000" stroke-width="0.25" font-family="'Liberation Sans',Arial,Helvetica,sans-serif">50 <tspan font-size="6.3" dy="-4.3">o</tspan><tspan dy="4.3" dx="-0.5">C</tspan></text>
<text x="505.10" y="109.50" font-size="9" fill="#000000" stroke="#000000" stroke-width="0.25" font-family="'Liberation Sans',Arial,Helvetica,sans-serif">40 <tspan font-size="6.3" dy="-4.3">o</tspan><tspan dy="4.3" dx="-0.5">C</tspan></text>
<text x="503.60" y="217.70" font-size="9" fill="#ff0000" stroke="#ff0000" stroke-width="0.25" font-family="'Liberation Sans',Arial,Helvetica,sans-serif">25 <tspan font-size="6.3" dy="-4.3">o</tspan><tspan dy="4.3" dx="-0.5">C</tspan></text>
<text x="462.70" y="257.60" font-size="9" fill="#000000" stroke="#000000" stroke-width="0.25" font-family="'Liberation Sans',Arial,Helvetica,sans-serif">70 <tspan font-size="6.3" dy="-4.3">o</tspan><tspan dy="4.3" dx="-0.5">C</tspan></text>
<text x="482.50" y="257.30" font-size="9" fill="#000000" stroke="#000000" stroke-width="0.25" font-family="'Liberation Sans',Arial,Helvetica,sans-serif">50 <tspan font-size="6.3" dy="-4.3">o</tspan><tspan dy="4.3" dx="-0.5">C</tspan></text>
<text x="500.20" y="249.80" font-size="9" fill="#000000" stroke="#000000" stroke-width="0.25" font-family="'Liberation Sans',Arial,Helvetica,sans-serif">40 <tspan font-size="6.3" dy="-4.3">o</tspan><tspan dy="4.3" dx="-0.5">C</tspan></text>
<text x="121.1" y="369.2" font-size="14" fill="#111" font-family="'Liberation Serif','Times New Roman',serif">(<tspan font-weight="bold">a</tspan>)</text>
<text x="423.5" y="369.0" font-size="14" fill="#111" font-family="'Liberation Serif','Times New Roman',serif">(<tspan font-weight="bold">b</tspan>)</text>
</g>
</svg>
</body></html>
